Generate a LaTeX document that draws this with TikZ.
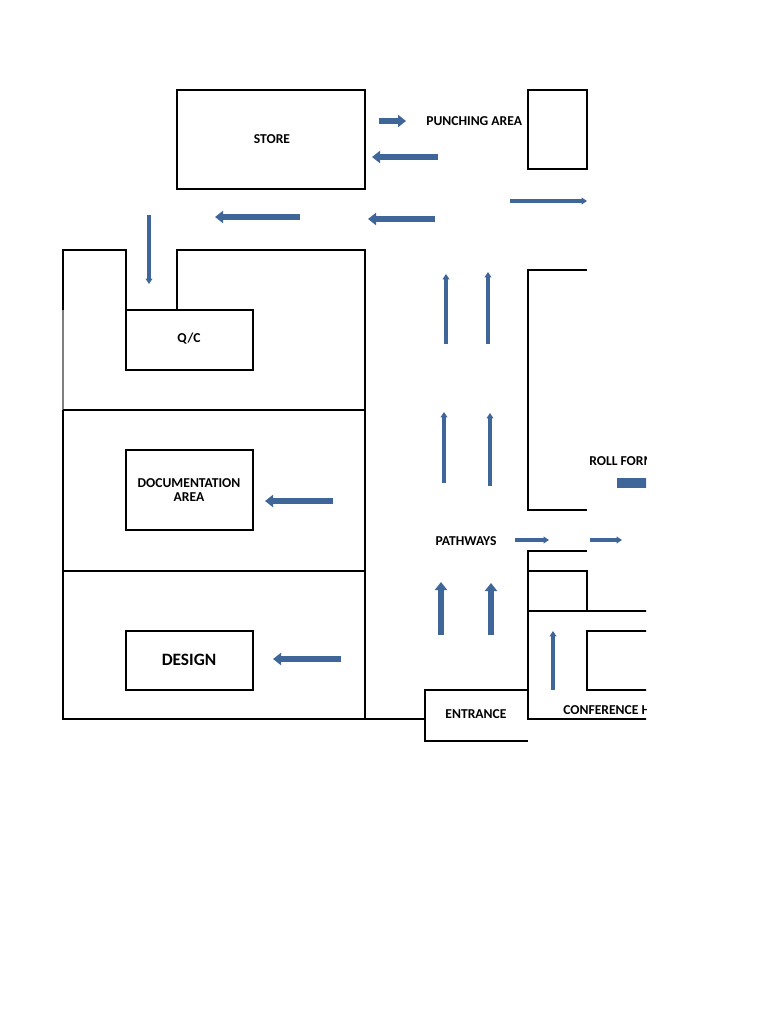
\documentclass[tikz,border=0pt]{standalone}
\usepackage{fontspec}
\setmainfont{Carlito}
\usetikzlibrary{arrows.meta}
\definecolor{ab}{HTML}{3F6699}
\begin{document}
\begin{tikzpicture}[x=0.75pt,y=-0.75pt,
 wall/.style={draw=black,line width=1.5pt},
 fat/.style={draw=ab,line width=4.5pt,-{Triangle[length=6pt,width=9pt]}},
 thin/.style={draw=ab,line width=3pt,-{Triangle[length=4pt,width=5pt]}},
 lbl/.style={font=\bfseries\fontsize{10.2}{10.5}\selectfont,align=center,inner sep=0pt}]
\useasboundingbox (0,0) rectangle (768,1024);
% store & punching
\draw[wall] (177,90) rectangle (365,189);
\node[lbl] (store) at (272,139) {STORE};
\draw[wall] (528,90) rectangle (587,169);
\node[lbl,anchor=west] (punch) at (426,121) {PUNCHING AREA};
\draw[fat] (379,121) -- (406,121);
\draw[fat] (438,157) -- (372,157);
\draw[fat] (435,219) -- (368,219);
\draw[fat] (300,217) -- (215,217);
\draw[thin] (510,201) -- (587,201);
\draw[thin] (149,215) -- (149,284);
% left block
\draw[wall] (63,310) -- (63,250) -- (126,250) -- (126,310);
\draw[draw=gray,line width=0.8pt] (63,310) -- (63,410);
\draw[wall] (177,310) -- (177,250) -- (365,250) -- (365,719);
\draw[wall] (63,410) -- (365,410);
\draw[wall] (63,410) -- (63,719) -- (425,719);
\draw[wall] (63,571) -- (365,571);
\draw[wall] (126,310) rectangle (253,370);
\node[lbl] (qc) at (189,339) {Q/C};
\draw[wall] (126,450) rectangle (253,530);
\node[lbl] (doc) at (189,490) {DOCUMENTATION\\AREA};
\draw[fat] (333,501) -- (265,501);
\draw[wall] (126,631) rectangle (253,690);
\node[lbl,font=\bfseries\fontsize{13}{14}\selectfont] (design) at (189,660) {DESIGN};
\draw[fat] (341,659) -- (273,659);
% pathway arrows
\draw[thin] (446,344) -- (446,274);
\draw[thin] (488,344) -- (488,272);
\draw[thin] (444,483) -- (444,412);
\draw[thin] (490,486) -- (490,413);
\draw[fat] (441,635) -- (441,582);
\draw[fat] (491,635) -- (491,583);
\node[lbl] (path) at (466,541) {PATHWAYS};
\draw[thin] (515,540) -- (549,540);
\draw[thin] (590,540) -- (622,540);
% entrance
\draw[wall] (528,690) -- (425,690) -- (425,741) -- (528,741);
\node[lbl] (ent) at (476,714) {ENTRANCE};
% right part clipped
\begin{scope}
\clip (500,0) rectangle (646,1024);
\draw[wall] (587,270) -- (528,270) -- (528,510) -- (587,510);
\node[lbl,anchor=west] (roll) at (589,461) {ROLL FORMING};
\draw[draw=ab,line width=7pt] (617,483) -- (680,483);
\draw[wall] (587,551) -- (528,551) -- (528,719) -- (660,719);
\draw[wall] (528,571) -- (587,571) -- (587,611);
\draw[wall] (528,611) -- (660,611);
\draw[wall] (660,631) -- (587,631) -- (587,690) -- (660,690);
\draw[thin] (553,690) -- (553,631);
\node[lbl,anchor=west] (conf) at (563,710) {CONFERENCE HALL};
\end{scope}
\end{tikzpicture}
\end{document}
